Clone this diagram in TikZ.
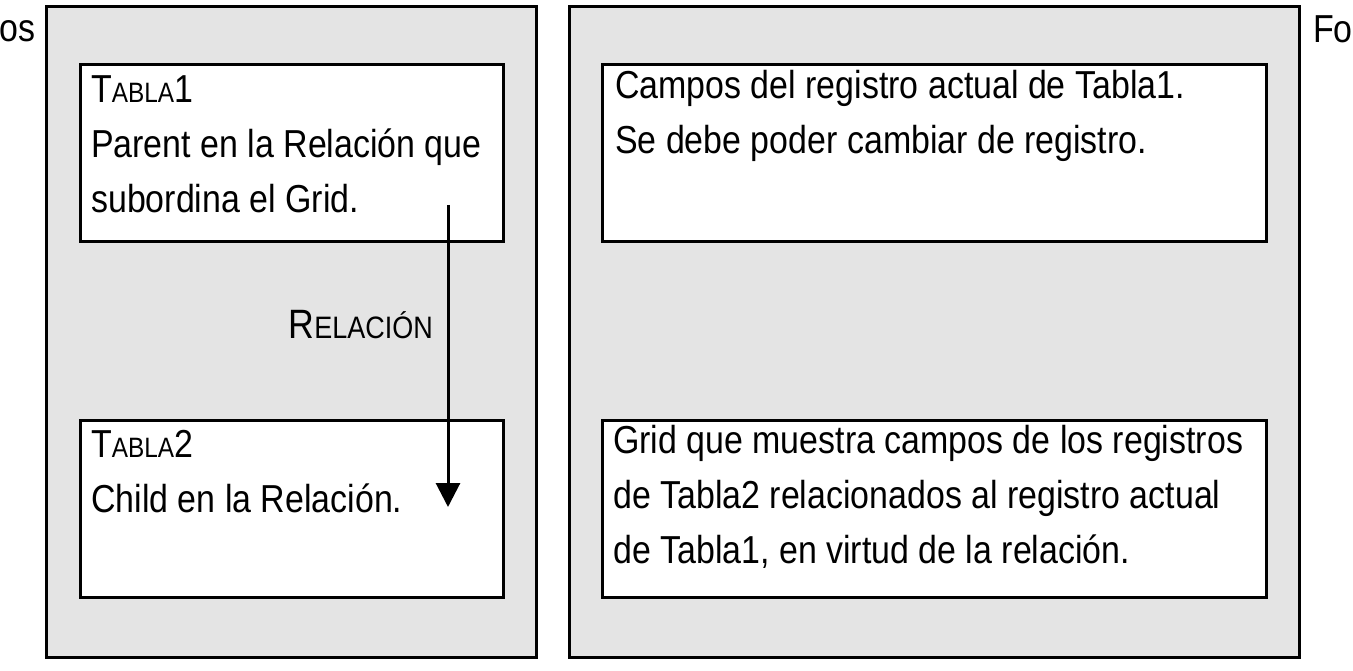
\documentclass[tikz,border=0pt]{standalone}
\usepackage{fontspec}
\setmainfont{Liberation Sans}[FakeStretch=0.87]
\usetikzlibrary{arrows.meta}
\definecolor{fondo}{RGB}{228,228,228}
\newcommand{\versalita}[2][28pt]{{\fontsize{#1}{#1}\selectfont #2}}

\begin{document}
\begin{tikzpicture}[x=1pt,y=-1pt,
  panel/.style={draw, line width=3pt, fill=fondo, anchor=north west, inner sep=0pt, minimum height=651pt},
  caja/.style={draw, line width=3pt, fill=white, anchor=north west, inner sep=0pt, minimum width=423pt, minimum height=177pt},
  texto/.style={anchor=north west, inner sep=0pt, align=left, font=\fontsize{39pt}{55pt}\selectfont}]
\useasboundingbox (0,0) rectangle (1353,671);

% draw panels
\node[panel, minimum width=490pt] (izq) at (45,5) {};
\node[panel, minimum width=730pt] (der) at (568,5) {};

% draw boxes
\node[caja] (tabla1) at (79,63) {};
\node[caja] (tabla2) at (79,419) {};
\node[caja, minimum width=664pt] (campos) at (601,63) {};
\node[caja, minimum width=664pt] (grid) at (601,419) {};

% draw texts
\node[texto] (txt1) at ([xshift=12pt,yshift=-12pt]tabla1.north west)
  {T\versalita{ABLA}1\\Parent en la Relación que\\subordina el Grid.};
\node[texto] (txt2) at ([xshift=12pt,yshift=-11pt]tabla2.north west)
  {T\versalita{ABLA}2\\Child en la Relación.};
\node[texto] (txtcampos) at ([xshift=14pt,yshift=-7pt]campos.north west)
  {Campos del registro actual de Tabla1.\\Se debe poder cambiar de registro.};
\node[texto] (txtgrid) at ([xshift=12pt,yshift=-6pt]grid.north west)
  {Grid que muestra campos de los registros\\de Tabla2 relacionados al registro actual\\de Tabla1, en virtud de la relación.};

% words at the sides
\node[texto, anchor=base west] (os) at (-1,42) {os};
\node[texto, anchor=base west] (fo) at (1313,43) {Fo};

% draw relation
\coordinate (relini) at (448,205);
\coordinate (relfin) at (448,507);
\draw[line width=3pt, -{Triangle[width=24pt,length=24pt]}] (relini) -- (relfin);
\node[texto, anchor=base east, font=\fontsize{41pt}{41pt}\selectfont] (rel) at (433,338)
  {R\versalita[31pt]{ELACIÓN}};

\end{tikzpicture}
\end{document}
